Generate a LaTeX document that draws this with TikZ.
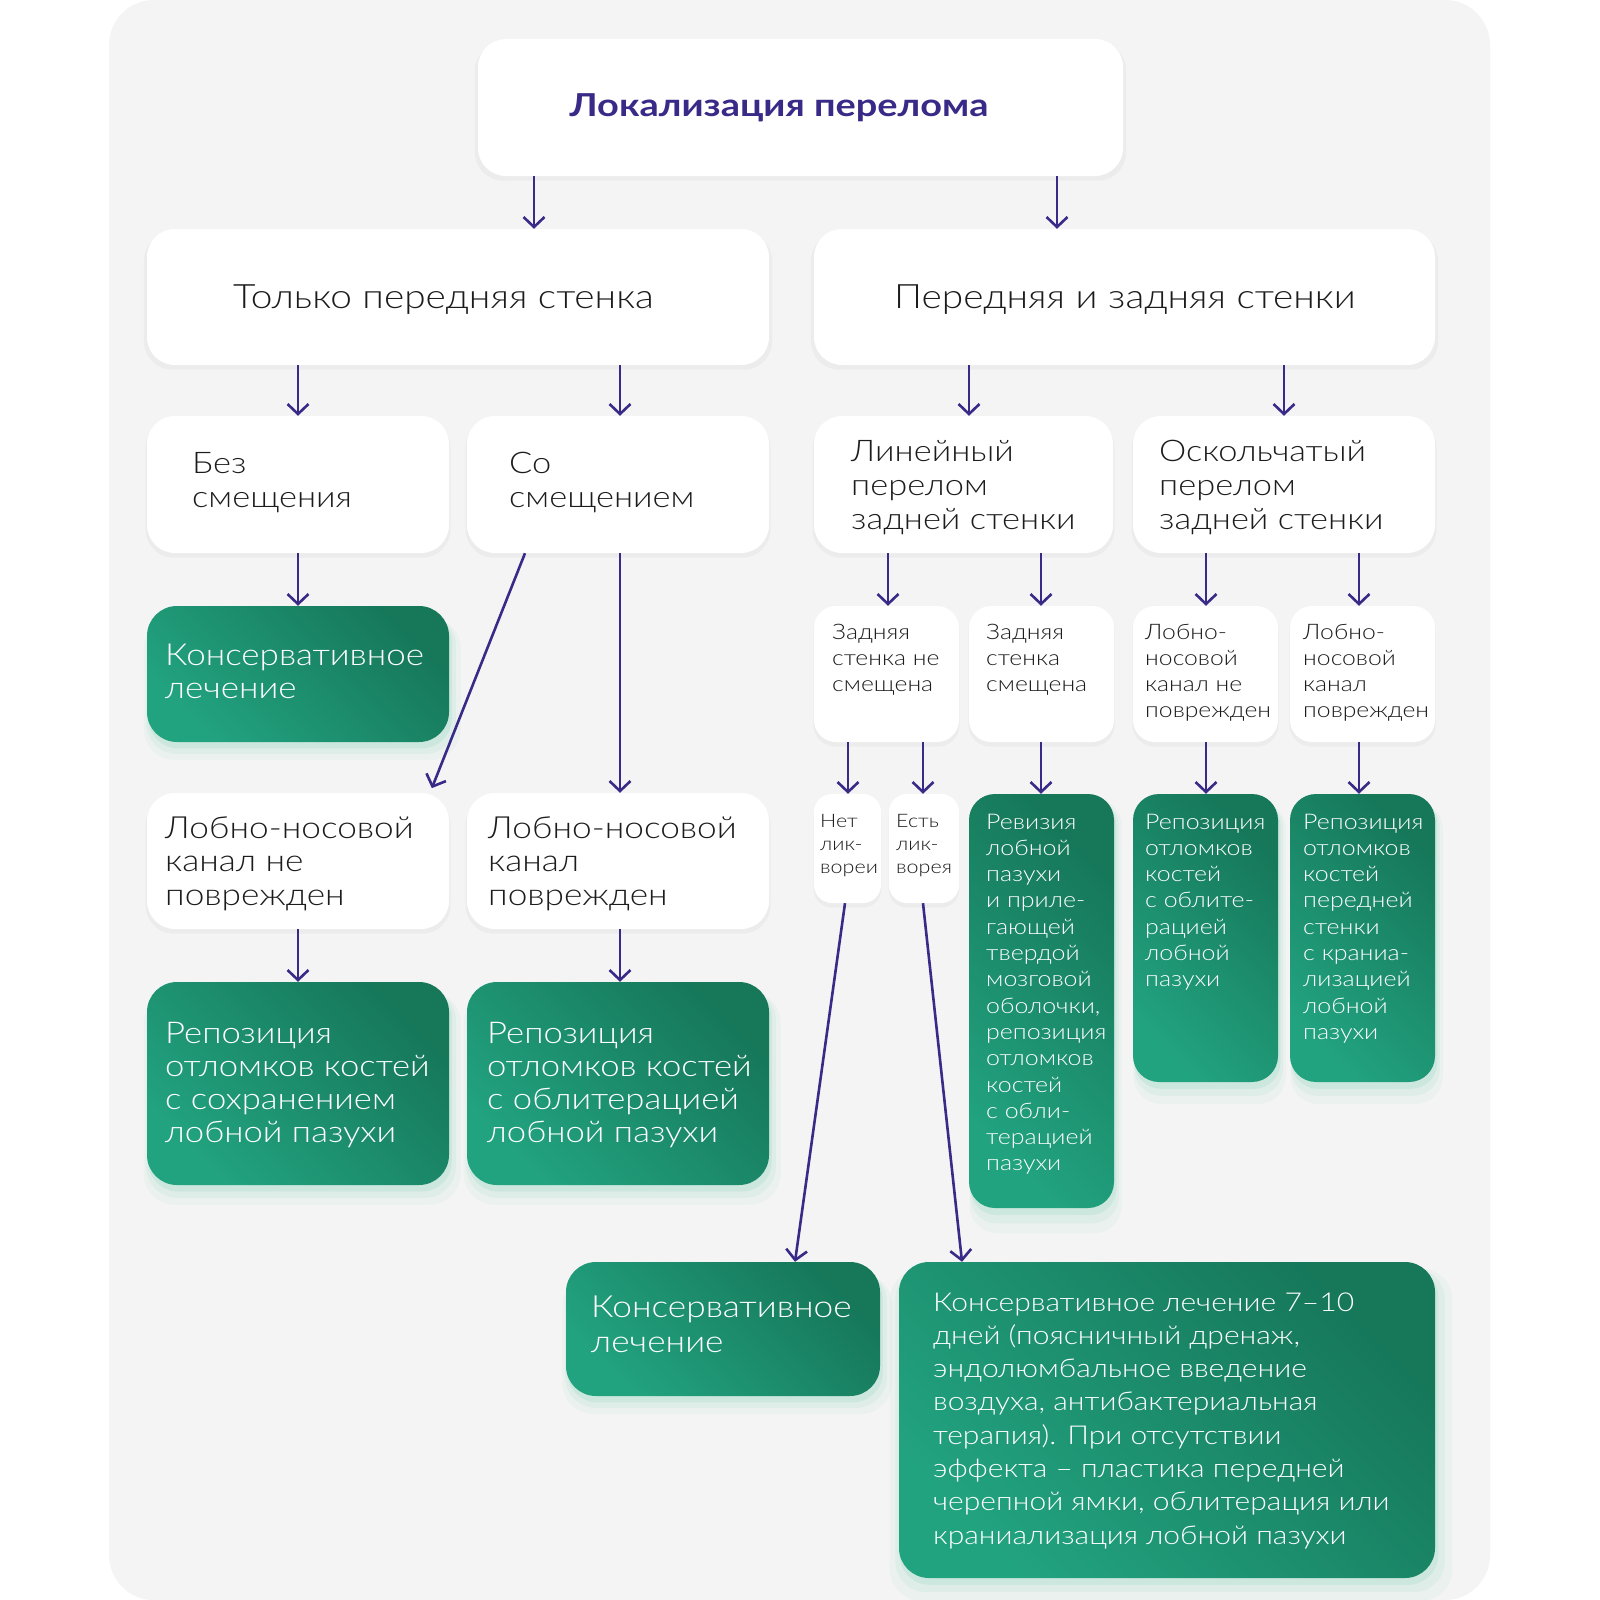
\documentclass[tikz,border=0pt]{standalone}
\usepackage{fontspec}
\IfFontExistsTF{Lato Light}
  {\setmainfont{Lato Light}[FakeStretch=1.155, BoldFont=Lato Bold, BoldFeatures={FakeStretch=1.2}]}
  {\setmainfont{Lato}[FakeStretch=1.155, BoldFeatures={FakeStretch=1.2}]}
\usetikzlibrary{arrows.meta,shadows,fit}
\definecolor{bg}{HTML}{F4F4F4}
\definecolor{pur}{HTML}{3A2A87}
\definecolor{gdark}{HTML}{167759}
\definecolor{glight}{HTML}{22A380}
\definecolor{gsh}{HTML}{8AD3B8}
\definecolor{ink}{HTML}{1C1C1C}
\newcommand\tx[3]{\fontsize{#1}{#2}\selectfont\begin{tabular}[t]{@{}l@{}}#3\end{tabular}}
\tikzset{
  wbox/.style={fill=white, rounded corners=28, inner sep=0,
    general shadow={fill=black, opacity=0.03, shadow yshift=-4pt, shadow scale=1.01}},
  gbox/.style={rounded corners=30, inner sep=0, left color=glight, right color=gdark, shading angle=135,
    general shadow={fill=gsh, opacity=0.08, shadow xshift=4pt, shadow yshift=-14pt, shadow scale=1.05},
    general shadow={fill=gsh, opacity=0.12, shadow xshift=3pt, shadow yshift=-10pt, shadow scale=1.025},
    general shadow={fill=gsh, opacity=0.22, shadow xshift=2pt, shadow yshift=-6pt, shadow scale=1.005}},
  arr/.style={draw=pur, line width=2.6, -{Straight Barb[length=10pt,width=21pt]}},
  wt/.style={anchor=base west, inner sep=0, text=ink},
  gt/.style={anchor=base west, inner sep=0, text=white},
}
\begin{document}
\begin{tikzpicture}[x=1pt,y=-1pt]
\useasboundingbox (0,0) rectangle (1600,1600);
\fill[white] (0,0) rectangle (1600,1600);
\fill[bg, rounded corners=45] (109,0) rectangle (1490,1600);

% white boxes
\node[wbox, fit={(478,39)(1123,176)}] (top) {};
\node[wbox, fit={(147,229)(769,365)}] (l2a) {};
\node[wbox, fit={(814,229)(1435,365)}] (l2b) {};
\node[wbox, fit={(147,416)(449,553)}] (l3a) {};
\node[wbox, fit={(467,416)(769,553)}] (l3b) {};
\node[wbox, fit={(814,416)(1113,553)}] (l3c) {};
\node[wbox, fit={(1133,416)(1435,553)}] (l3d) {};
\node[wbox, rounded corners=22, fit={(814,606)(959,742)}] (s1) {};
\node[wbox, rounded corners=22, fit={(969,606)(1114,742)}] (s2) {};
\node[wbox, rounded corners=22, fit={(1133,606)(1278,742)}] (s3) {};
\node[wbox, rounded corners=22, fit={(1290,606)(1435,742)}] (s4) {};
\node[wbox, fit={(147,793)(449,929)}] (l5a) {};
\node[wbox, fit={(467,793)(769,929)}] (l5b) {};
\node[wbox, rounded corners=18, fit={(814,794)(881,903)}] (t1) {};
\node[wbox, rounded corners=18, fit={(889,794)(959,903)}] (t2) {};

% green boxes
\node[gbox, fit={(147,606)(449,742)}] (g1) {};
\node[gbox, fit={(147,982)(449,1185)}] (g2) {};
\node[gbox, fit={(467,982)(769,1185)}] (g3) {};
\node[gbox, rounded corners=26, fit={(969,794)(1114,1208)}] (g4) {};
\node[gbox, rounded corners=26, fit={(1133,794)(1278,1082)}] (g5) {};
\node[gbox, rounded corners=26, fit={(1290,794)(1435,1082)}] (g6) {};
\node[gbox, fit={(566,1262)(880,1396)}] (g7) {};
\node[gbox, fit={(899,1262)(1435,1578)}] (g8) {};

% texts
\node[anchor=base, inner sep=0, text=pur, font=\bfseries\fontsize{31.6}{36}\selectfont] (topt) at (779,117) {Локализация перелома};
\node[wt] (l2at) at (233,308) {\tx{33.6}{38}{Только передняя стенка}};
\node[wt] (l2bt) at (894,308) {\tx{33.6}{38}{Передняя и задняя стенки}};
\node[wt] (l3at) at (192,473) {\tx{29.8}{34}{Без\\смещения}};
\node[wt] (l3bt) at (509,473) {\tx{29.8}{34}{Со\\смещением}};
\node[wt] (l3ct) at (851,461) {\tx{29.8}{34}{Линейный\\перелом\\задней стенки}};
\node[wt] (l3dt) at (1159,461) {\tx{29.8}{34}{Оскольчатый\\перелом\\задней стенки}};
\node[gt] (g1t) at (165,665) {\tx{30.3}{33}{Консервативное\\лечение}};
\node[wt] (l5at) at (165,838) {\tx{30.5}{33.5}{Лобно-носовой\\канал не\\поврежден}};
\node[wt] (l5bt) at (488,838) {\tx{30.5}{33.5}{Лобно-носовой\\канал\\поврежден}};
\node[gt] (g2t) at (165,1043) {\tx{30}{33}{Репозиция\\отломков костей\\с сохранением\\лобной пазухи}};
\node[gt] (g3t) at (487,1043) {\tx{30}{33}{Репозиция\\отломков костей\\с облитерацией\\лобной пазухи}};
\node[wt] (s1t) at (832,639) {\tx{21.4}{26.3}{Задняя\\стенка не\\смещена}};
\node[wt] (s2t) at (986,639) {\tx{21.4}{26.3}{Задняя\\стенка\\смещена}};
\node[wt] (s3t) at (1145,639) {\tx{21.4}{26.3}{Лобно-\\носовой\\канал не\\поврежден}};
\node[wt] (s4t) at (1303,639) {\tx{21.4}{26.3}{Лобно-\\носовой\\канал\\поврежден}};
\node[wt] (t1t) at (820,827) {\tx{18.6}{23}{Нет\\лик-\\вореи}};
\node[wt] (t2t) at (896,827) {\tx{18.6}{23}{Есть\\лик-\\ворея}};
\node[gt] (g4t) at (986,829) {\tx{21.6}{26.3}{Ревизия\\лобной\\пазухи\\и приле-\\гающей\\твердой\\мозговой\\оболочки,\\репозиция\\отломков\\костей\\с обли-\\терацией\\пазухи}};
\node[gt] (g5t) at (1145,829) {\tx{21.6}{26.3}{Репозиция\\отломков\\костей\\с облите-\\рацией\\лобной\\пазухи}};
\node[gt] (g6t) at (1303,829) {\tx{21.6}{26.3}{Репозиция\\отломков\\костей\\передней\\стенки\\с краниа-\\лизацией\\лобной\\пазухи}};
\node[gt] (g7t) at (591,1317) {\tx{30.5}{35.7}{Консервативное\\лечение}};
\node[gt] (g8t) at (933,1311) {\tx{26}{33.3}{Консервативное лечение 7–10\\дней (поясничный дренаж,\\эндолюмбальное введение\\воздуха, антибактериальная\\терапия). При отсутствии\\эффекта – пластика передней\\черепной ямки, облитерация или\\краниализация лобной пазухи}};

% arrows
\draw[arr] (534,0 |- top.south) -- (534,0 |- l2a.north);
\draw[arr] (1057,0 |- top.south) -- (1057,0 |- l2b.north);
\draw[arr] (298,0 |- l2a.south) -- (298,0 |- l3a.north);
\draw[arr] (620,0 |- l2a.south) -- (620,0 |- l3b.north);
\draw[arr] (969,0 |- l2b.south) -- (969,0 |- l3c.north);
\draw[arr] (1284,0 |- l2b.south) -- (1284,0 |- l3d.north);
\draw[arr] (298,0 |- l3a.south) -- (298,0 |- g1.north);
\draw[arr, shorten >=5] (525,0 |- l3b.south) -- (430,0 |- l5a.north);
\draw[arr] (620,0 |- l3b.south) -- (620,0 |- l5b.north);
\draw[arr] (298,0 |- l5a.south) -- (298,0 |- g2.north);
\draw[arr] (620,0 |- l5b.south) -- (620,0 |- g3.north);
\draw[arr] (888,0 |- l3c.south) -- (888,0 |- s1.north);
\draw[arr] (1041,0 |- l3c.south) -- (1041,0 |- s2.north);
\draw[arr] (1206,0 |- l3d.south) -- (1206,0 |- s3.north);
\draw[arr] (1359,0 |- l3d.south) -- (1359,0 |- s4.north);
\draw[arr] (848,0 |- s1.south) -- (848,0 |- t1.north);
\draw[arr] (923,0 |- s1.south) -- (923,0 |- t2.north);
\draw[arr] (1041,0 |- s2.south) -- (1041,0 |- g4.north);
\draw[arr] (1206,0 |- s3.south) -- (1206,0 |- g5.north);
\draw[arr] (1359,0 |- s4.south) -- (1359,0 |- g6.north);
\draw[arr] (845,0 |- t1.south) -- (795,0 |- g7.north);
\draw[arr] (923,0 |- t2.south) -- (962,0 |- g8.north);
\end{tikzpicture}
\end{document}
